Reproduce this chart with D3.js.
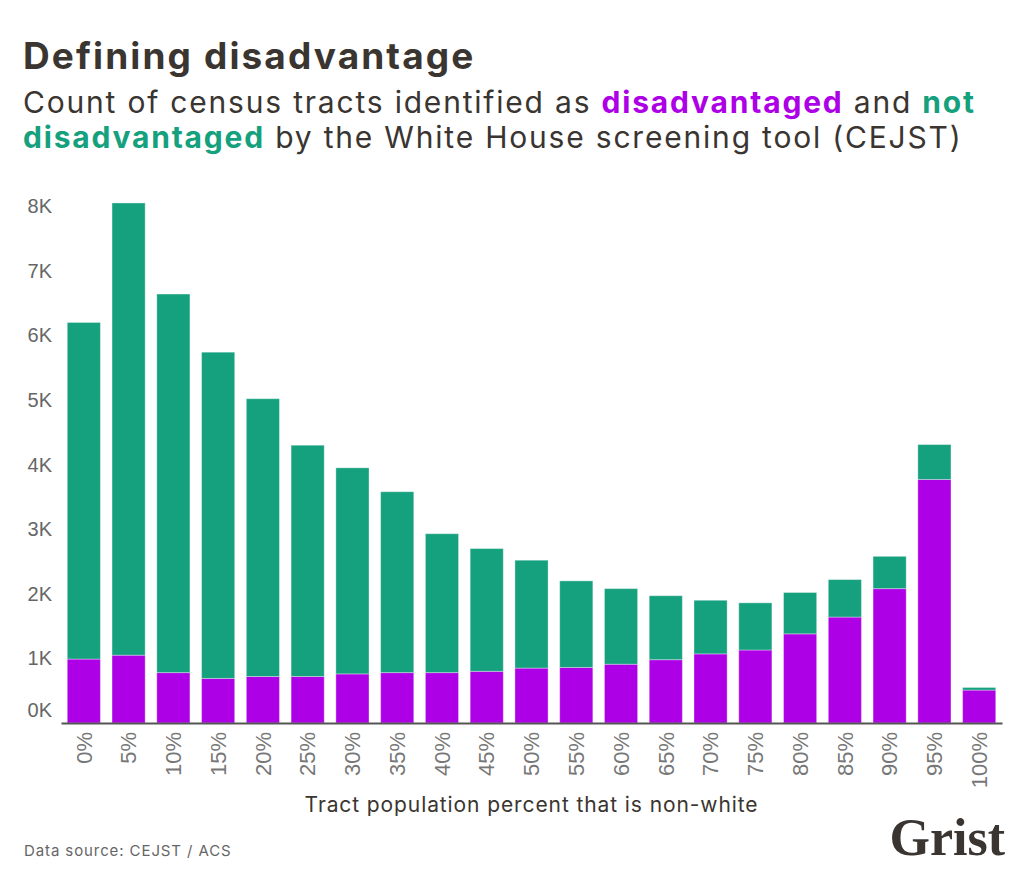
<!DOCTYPE html>
<html>
<head>
<meta charset="utf-8">
<script src="https://cdn.jsdelivr.net/npm/d3@7/dist/d3.min.js"></script>
<style>
body { margin: 0; background: #fff; }
svg text { font-family: Inter, "Liberation Sans", sans-serif; }
</style>
</head>
<body>
<script>
// values (number of census tracts)
var categories = ["0%", "5%", "10%", "15%", "20%", "25%", "30%", "35%", "40%", "45%", "50%",
                  "55%", "60%", "65%", "70%", "75%", "80%", "85%", "90%", "95%", "100%"];
var disadvantaged = [990, 1050, 780, 690, 720, 720, 760, 780, 780, 800, 850,
                     860, 910, 980, 1070, 1130, 1380, 1640, 2080, 3770, 510];
var notDisadvantaged = [5210, 7000, 5860, 5050, 4300, 3580, 3190, 2800, 2150, 1900, 1670,
                        1340, 1170, 990, 830, 730, 640, 580, 500, 540, 40];
var yTicks = [0, 1000, 2000, 3000, 4000, 5000, 6000, 7000, 8000];

var purple = "#ad00e6",
    green = "#15a07e",
    ink = "#3a3530";

var width = 1024, height = 877;

var svg = d3.select("body")
    .append("svg")
    .attr("width", width)
    .attr("height", height);

// title + subtitle
svg.append("text")
    .attr("x", 23).attr("y", 69)
    .attr("fill", ink)
    .style("font-size", "37px")
    .style("font-weight", 700)
    .style("letter-spacing", "2.1px")
    .text("Defining disadvantage");

var sub1 = svg.append("text")
    .attr("x", 23).attr("y", 113)
    .attr("fill", ink)
    .style("font-size", "30px")
    .style("font-weight", 400)
    .style("letter-spacing", "1.8px");
sub1.append("tspan").text("Count of census tracts identified as ");
sub1.append("tspan").attr("fill", purple).style("font-weight", 700).text("disadvantaged");
sub1.append("tspan").text(" and ");
sub1.append("tspan").attr("fill", green).style("font-weight", 700).text("not");

var sub2 = svg.append("text")
    .attr("x", 23).attr("y", 148)
    .attr("fill", ink)
    .style("font-size", "30px")
    .style("font-weight", 400)
    .style("letter-spacing", "1.8px");
sub2.append("tspan").attr("fill", green).style("font-weight", 700).text("disadvantaged");
sub2.append("tspan").text(" by the White House screening tool (CEJST)");

// scales
var x = d3.scaleBand()
    .domain(categories)
    .range([61, 1002])
    .paddingInner(0.26)
    .paddingOuter(0.14);

var y = d3.scaleLinear()
    .domain([0, 8000])
    .range([723, 206.2]);

var data = categories.map(function(c, i) {
  return {cat: c, dis: disadvantaged[i], not: notDisadvantaged[i]};
});

var series = d3.stack().keys(["dis", "not"])(data);
var colors = {dis: purple, not: green};

svg.append("g").selectAll("g")
    .data(series)
    .enter().append("g")
    .attr("fill", function(s) { return colors[s.key]; })
  .selectAll("rect")
    .data(function(s) { return s; })
    .enter().append("rect")
    .attr("x", function(d) { return x(d.data.cat); })
    .attr("y", function(d) { return y(d[1]); })
    .attr("width", x.bandwidth())
    .attr("height", function(d) { return y(d[0]) - y(d[1]); })
    .attr("stroke", "rgba(255,255,255,0.35)")
    .attr("stroke-width", 1);

// y axis
var yAxis = svg.append("g")
    .attr("transform", "translate(52,0)")
    .call(d3.axisLeft(y).tickValues(yTicks).tickSize(0).tickPadding(0)
      .tickFormat(function(d) { return (d / 1000) + "K"; }));
yAxis.select(".domain").remove();
yAxis.selectAll("text")
    .attr("fill", "#666")
    .style("font-size", "20px")
    .style("font-family", "'Liberation Sans', sans-serif");
// 0K label sits lifted above the axis line
yAxis.selectAll(".tick").filter(function(d) { return d === 0; })
    .select("text").attr("y", -13);

// x axis
var xAxis = svg.append("g")
    .attr("transform", "translate(0,723)")
    .call(d3.axisBottom(x).tickSize(0).tickSizeOuter(0));
xAxis.select(".domain")
    .attr("stroke", "#555")
    .attr("stroke-width", 2);
xAxis.selectAll("text")
    .attr("transform", "rotate(-90)")
    .attr("x", -9)
    .attr("y", 0)
    .attr("dy", "0.35em")
    .attr("text-anchor", "end")
    .attr("fill", "#777")
    .style("font-size", "22px")
    .style("font-family", "'Liberation Sans', sans-serif");

svg.append("text")
    .attr("x", 531.5).attr("y", 812)
    .attr("text-anchor", "middle")
    .attr("fill", ink)
    .style("font-size", "21px")
    .style("letter-spacing", "0.9px")
    .text("Tract population percent that is non-white");

// footer
svg.append("text")
    .attr("x", 24).attr("y", 856)
    .attr("fill", "#666")
    .style("font-size", "15px")
    .style("letter-spacing", "0.9px")
    .text("Data source: CEJST / ACS");

svg.append("text")
    .attr("x", 1005).attr("y", 855)
    .attr("text-anchor", "end")
    .attr("fill", ink)
    .style("font-family", "'Liberation Serif', serif")
    .style("font-weight", 700)
    .style("font-size", "52px")
    .text("Grist");
</script>
</body>
</html>
